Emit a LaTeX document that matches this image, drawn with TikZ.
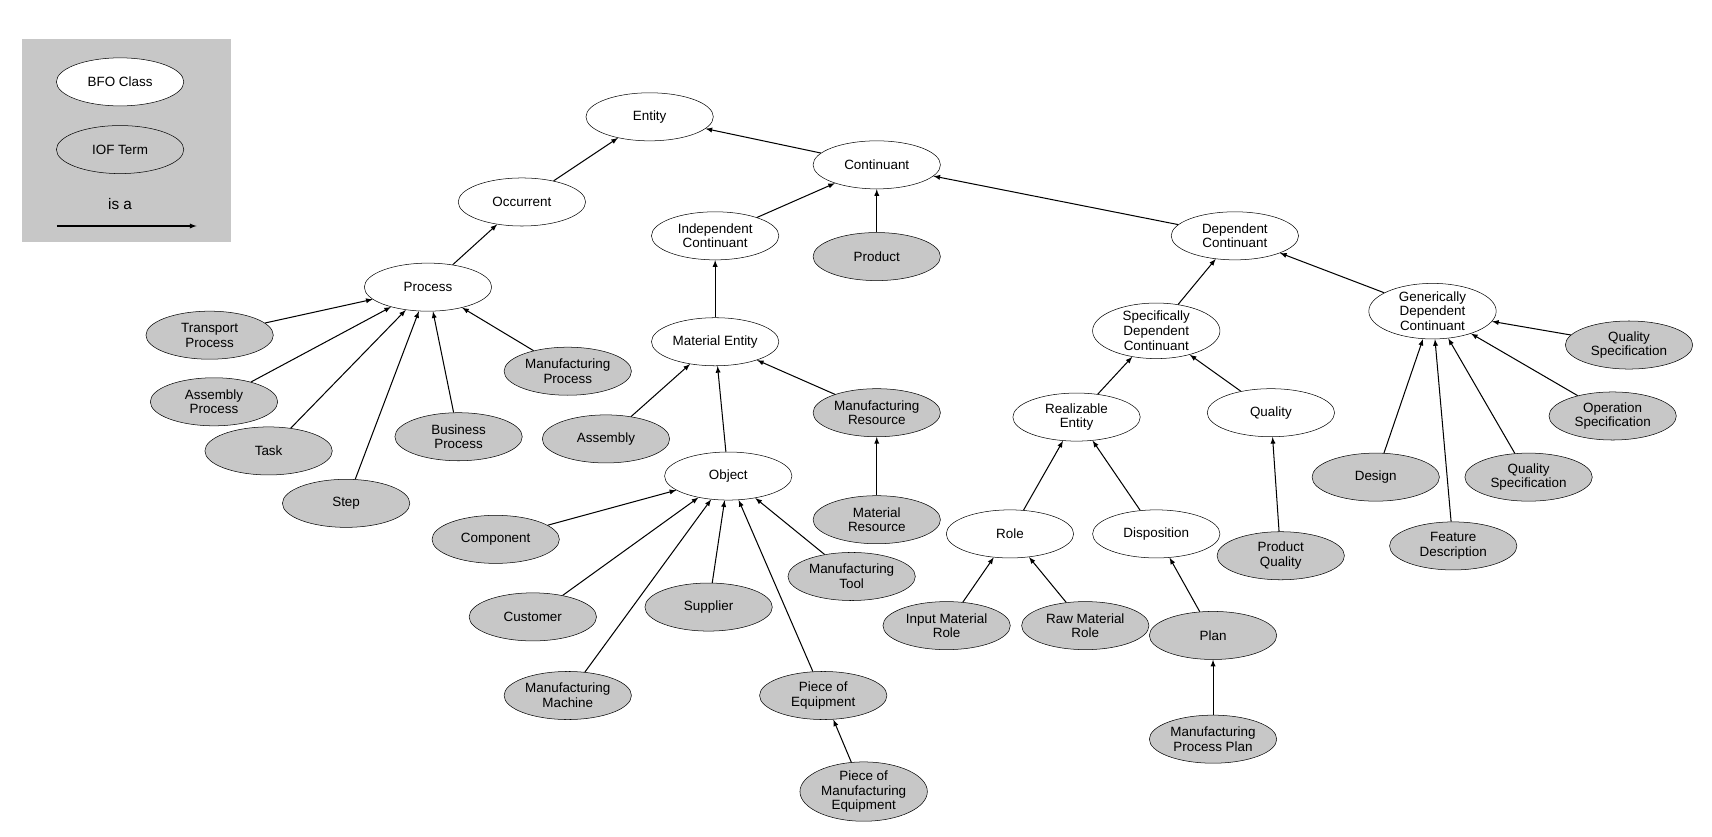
\documentclass[tikz,border=0pt]{standalone}
\usepackage{fontspec}
\setmainfont{Liberation Sans}
\usetikzlibrary{shapes.geometric,arrows}
\tikzset{
  cls/.style={draw, ellipse, fill=white, minimum width=3.5cm, minimum height=1.32cm, inner sep=0pt, align=center, font=\fontsize{10.5}{11.5}\selectfont},
  iof/.style={cls, fill=black!22},
  isa/.style={-latex, thick}
}
\begin{document}
\begin{tikzpicture}[x=0.03cm, y=-0.03cm]
        \useasboundingbox (0,0) rectangle (1568,766);
        % Legend
        \fill[black!22] (20,36) rectangle (212,222);
        \node[cls] (lbfo) at (110,75) {BFO Class};
        \node[iof] (liof) at (110,137) {IOF Term};
        \node[font=\fontsize{12}{13}\selectfont] (lisa) at (110,187) {is a};
        \coordinate (la) at (52,207);
        \coordinate (lb) at (180,207);
        \draw[isa] (la) -- (lb);

        % BFO classes
        \node[cls] (entity) at (595,107) {Entity};
        \node[cls] (cont) at (803,151) {Continuant};
        \node[cls] (occ) at (478,185) {Occurrent};
        \node[cls] (indcont) at (655,216) {Independent\\Continuant};
        \node[cls] (depcont) at (1131,216) {Dependent\\Continuant};
        \node[cls] (process) at (392,263) {Process};
        \node[cls] (matent) at (655,313) {Material Entity};
        \node[cls] (object) at (667,436) {Object};
        \node[cls] (sdc) at (1059,303) {Specifically\\Dependent\\Continuant};
        \node[cls] (gdc) at (1312,285) {Generically\\Dependent\\Continuant};
        \node[cls] (realent) at (986,382) {Realizable\\Entity};
        \node[cls] (quality) at (1164,378) {Quality};
        \node[cls] (role) at (925,489) {Role};
        \node[cls] (disp) at (1059,489) {Disposition};

        % IOF terms
        \node[iof] (product) at (803,235) {Product};
        \node[iof] (transp) at (192,307) {Transport\\Process};
        \node[iof] (asmproc) at (196,368) {Assembly\\Process};
        \node[iof] (task) at (246,413) {Task};
        \node[iof] (step) at (317,461) {Step};
        \node[iof] (busproc) at (420,400) {Business\\Process};
        \node[iof] (mfgproc) at (520,340) {Manufacturing\\Process};
        \node[iof] (assembly) at (555,402) {Assembly};
        \node[iof] (mfgres) at (803,378) {Manufacturing\\Resource};
        \node[iof] (matres) at (803,476) {Material\\Resource};
        \node[iof] (comp) at (454,494) {Component};
        \node[iof] (cust) at (488,565) {Customer};
        \node[iof] (supp) at (649,556) {Supplier};
        \node[iof] (mfgtool) at (780,528) {Manufacturing\\Tool};
        \node[iof] (mfgmach) at (520,637) {Manufacturing\\Machine};
        \node[iof] (poe) at (754,637) {Piece of\\Equipment};
        \node[iof] (pome) at (791,725) {Piece of\\Manufacturing\\Equipment};
        \node[iof] (inrole) at (867,573) {Input Material\\Role};
        \node[iof] (rawrole) at (994,573) {Raw Material\\Role};
        \node[iof] (plan) at (1111,582) {Plan};
        \node[iof] (mpplan) at (1111,677) {Manufacturing\\Process Plan};
        \node[iof] (prodq) at (1173,509) {Product\\Quality};
        \node[iof] (design) at (1260,437) {Design};
        \node[iof] (featdesc) at (1331,500) {Feature\\Description};
        \node[iof] (qspecb) at (1400,437) {Quality\\Specification};
        \node[iof] (opspec) at (1477,381) {Operation\\Specification};
        \node[iof] (qspeca) at (1492,316) {Quality\\Specification};

        % is a
        \draw[isa] (cont) -- (entity);
        \draw[isa] (occ) -- (entity);
        \draw[isa] (indcont) -- (cont);
        \draw[isa] (product) -- (cont);
        \draw[isa] (depcont) -- (cont);
        \draw[isa] (process) -- (occ);
        \draw[isa] (transp) -- (process);
        \draw[isa] (asmproc) -- (process);
        \draw[isa] (task) -- (process);
        \draw[isa] (step) -- (process);
        \draw[isa] (busproc) -- (process);
        \draw[isa] (mfgproc) -- (process);
        \draw[isa] (matent) -- (indcont);
        \draw[isa] (assembly) -- (matent);
        \draw[isa] (mfgres) -- (matent);
        \draw[isa] (object) -- (matent);
        \draw[isa] (matres) -- (mfgres);
        \draw[isa] (comp) -- (object);
        \draw[isa] (cust) -- (object);
        \draw[isa] (supp) -- (object);
        \draw[isa] (mfgtool) -- (object);
        \draw[isa] (mfgmach) -- (object);
        \draw[isa] (poe) -- (object);
        \draw[isa] (pome) -- (poe);
        \draw[isa] (sdc) -- (depcont);
        \draw[isa] (gdc) -- (depcont);
        \draw[isa] (realent) -- (sdc);
        \draw[isa] (quality) -- (sdc);
        \draw[isa] (role) -- (realent);
        \draw[isa] (disp) -- (realent);
        \draw[isa] (inrole) -- (role);
        \draw[isa] (rawrole) -- (role);
        \draw[isa] (plan) -- (disp);
        \draw[isa] (mpplan) -- (plan);
        \draw[isa] (prodq) -- (quality);
        \draw[isa] (design) -- (gdc);
        \draw[isa] (featdesc) -- (gdc);
        \draw[isa] (qspecb) -- (gdc);
        \draw[isa] (opspec) -- (gdc);
        \draw[isa] (qspeca) -- (gdc);
\end{tikzpicture}
\end{document}
